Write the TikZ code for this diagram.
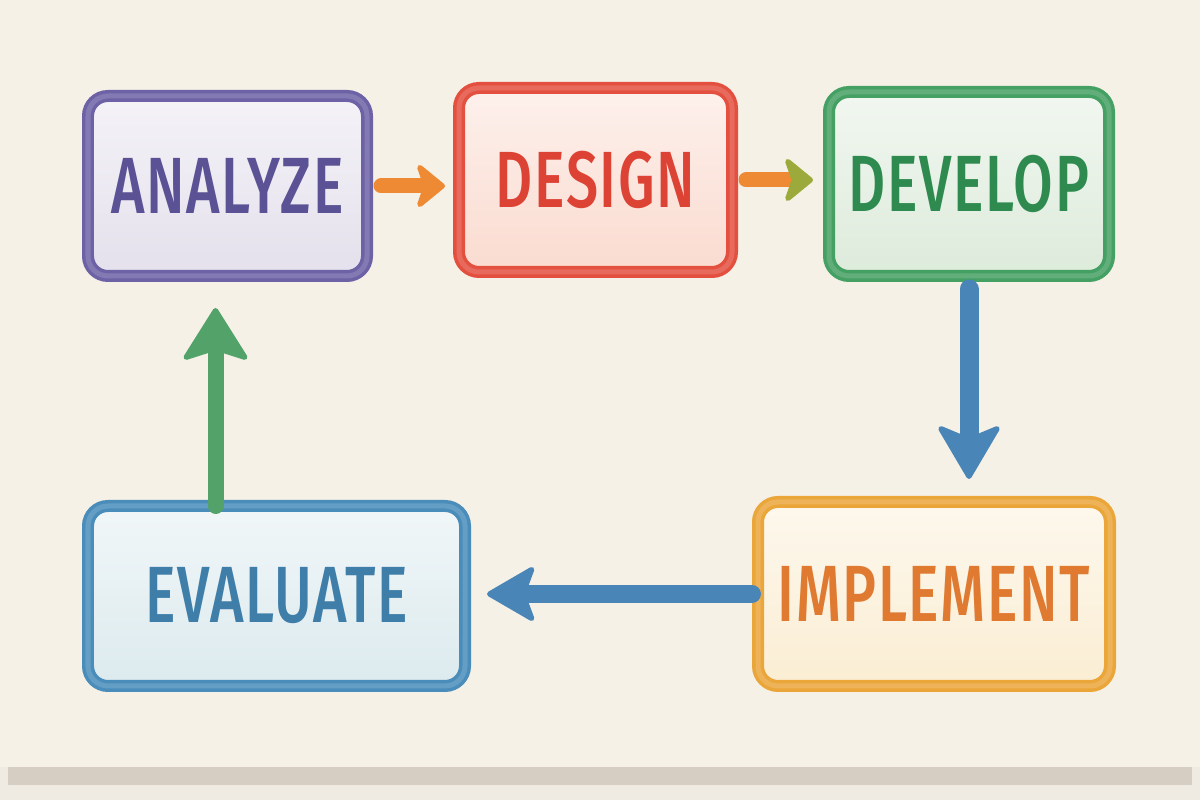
\documentclass[tikz,border=0pt]{standalone}
\usepackage{fontspec}
\usepackage{tikz}
\usetikzlibrary{arrows.meta,calc}

\newfontfamily\handfont{Fira Sans}[UprightFont=* Medium, FakeStretch=0.72, LetterSpace=2]

\definecolor{paper}{HTML}{F5F1E7}
\definecolor{table}{HTML}{EFEBE2}
\definecolor{paperedge}{HTML}{D6CEC2}
\definecolor{bpurple}{HTML}{6D62A6}
\definecolor{fpurple}{HTML}{E4E0EC}
\definecolor{tpurple}{HTML}{5A5294}
\definecolor{bred}{HTML}{E4503F}
\definecolor{fred}{HTML}{FADBD0}
\definecolor{tred}{HTML}{DC4334}
\definecolor{bgreen}{HTML}{45A064}
\definecolor{fgreen}{HTML}{DDEBDB}
\definecolor{tgreen}{HTML}{2E8A4F}
\definecolor{borange}{HTML}{EBA63A}
\definecolor{forange}{HTML}{FAEDD3}
\definecolor{torange}{HTML}{DF7A30}
\definecolor{bblue}{HTML}{4A8DBA}
\definecolor{fblue}{HTML}{DCEAEE}
\definecolor{tblue}{HTML}{3E7EA8}
\definecolor{aorange}{HTML}{EE8A33}
\definecolor{aolive}{HTML}{9BAA3A}
\definecolor{ablue}{HTML}{4A85B8}
\definecolor{agreen}{HTML}{52A26A}

\begin{document}
\begin{tikzpicture}[
                        stage/.style n args={3}{draw=#1, line width=0.12cm, rounded corners=0.2cm,
                            top color=#2!40!white, bottom color=#2, text=#3, inner sep=0pt,
                            font=\handfont\fontsize{22.7}{27}\selectfont,
                            postaction={draw=#1!85!white, line width=0.05cm}},
                        flow/.style={line width=#1, line cap=round}
                    ]
                        % sheet of paper with its shadow
                        \fill [table] (0,0) rectangle (12,8);
                        \fill [paperedge] (0.08,0.15) rectangle (11.92,0.35);
                        \fill [paper] (0,0.33) rectangle (12,8);

                        \node [stage={bpurple}{fpurple}{tpurple}, minimum width=2.79cm, minimum height=1.80cm] (analyze) at (2.275,6.14) {ANALYZE};
                        \node [stage={bred}{fred}{tred}, minimum width=2.73cm, minimum height=1.84cm] (design) at (5.955,6.20) {DESIGN};
                        \node [stage={bgreen}{fgreen}{tgreen}, minimum width=2.80cm, minimum height=1.84cm] (develop) at (9.69,6.16) {DEVELOP};
                        \node [stage={borange}{forange}{torange}, minimum width=3.52cm, minimum height=1.84cm] (implement) at (9.34,2.06) {IMPLEMENT};
                        \node [stage={bblue}{fblue}{tblue}, minimum width=3.77cm, minimum height=1.80cm] (evaluate) at (2.765,2.04) {EVALUATE};

                        % the cycle
                        \draw [flow=0.15cm, aorange, shorten <=0.08cm, shorten >=0.08cm,
                            -{Stealth[length=0.32cm, width=0.52cm, inset=0.09cm, round, line width=1.5pt]}]
                            (analyze.east) -- (analyze.east -| design.west);
                        \draw [flow=0.15cm, aorange, shorten <=0.08cm, shorten >=0.10cm,
                            -{Stealth[length=0.32cm, width=0.52cm, inset=0.09cm, round, line width=1.5pt, color=aolive]}]
                            (design.east) -- (design.east -| develop.west);
                        \draw [flow=0.19cm, ablue, shorten <=0.07cm, shorten >=0.17cm,
                            -{Stealth[length=0.58cm, width=0.68cm, inset=0.14cm, round, line width=1.5pt]}]
                            (develop.south) -- (develop.south |- implement.north);
                        \draw [flow=0.18cm, ablue, shorten >=0.16cm,
                            -{Stealth[length=0.52cm, width=0.60cm, inset=0.11cm, round, line width=1.5pt]}]
                            (implement.west) -- (implement.west -| evaluate.east);
                        \draw [flow=0.16cm, agreen, shorten <=-0.06cm, shorten >=0.26cm,
                            -{Stealth[length=0.56cm, width=0.70cm, inset=0.11cm, round, line width=1.5pt]}]
                            ([xshift=-0.12cm]evaluate.north -| analyze.south) -- ([xshift=-0.12cm]analyze.south);
                    \end{tikzpicture}
\end{document}
